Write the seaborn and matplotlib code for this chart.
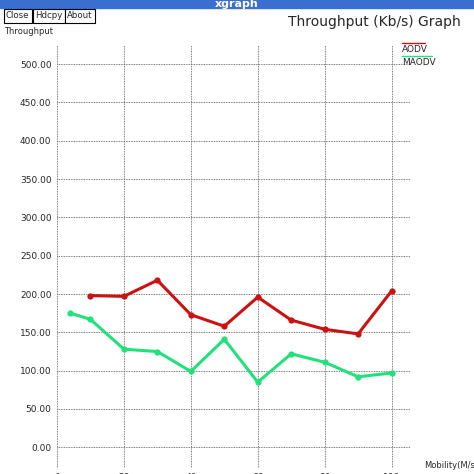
import matplotlib
matplotlib.use('Agg')
import matplotlib.pyplot as plt
import seaborn as sns
import pandas as pd
from matplotlib.patches import Rectangle

# ── data ─────────────────────────────────────────────────────
aodv_x = [10, 20, 30, 40, 50, 60, 70, 80, 90, 100]
aodv_y = [198, 197, 218, 173, 158, 196, 166, 154, 148, 204]
maodv_x = [4, 10, 20, 30, 40, 50, 60, 70, 80, 90, 100]
maodv_y = [175, 167, 128, 125, 99, 141, 85, 122, 111, 92, 97]
y_ticks = [0, 50, 100, 150, 200, 250, 300, 350, 400, 450, 500]
x_ticks = [0, 20, 40, 60, 80, 100]

df = pd.concat([
    pd.DataFrame({'x': aodv_x, 'y': aodv_y, 'proto': 'AODV'}),
    pd.DataFrame({'x': maodv_x, 'y': maodv_y, 'proto': 'MAODV'}),
])
palette = {'AODV': '#cc1111', 'MAODV': '#22e07a'}

sns.set_style('white')
fig = plt.figure(figsize=(4.74, 4.74), dpi=100)
fig.patch.set_facecolor('white')

# window chrome: title bar + buttons
fig.patches.append(Rectangle((0, 1 - 8/474), 1, 8/474, transform=fig.transFigure,
                             color='#3a6fd0', zorder=0))
fig.text(0.5, 1 - 4/474, 'xgraph', ha='center', va='center', color='white',
         fontsize=8, fontweight='bold')
for xp, lab in [(6, 'Close'), (35, 'Hdcpy'), (67, 'About')]:
    fig.text(xp/474, 1 - 16/474, lab, fontsize=6.2, va='center', ha='left',
             bbox=dict(boxstyle='square,pad=0.25', fc='white', ec='black', lw=0.8))
fig.text(288/474, 1 - 22/474, 'Throughput (Kb/s) Graph', fontsize=10, va='center')
fig.text(4/474, 1 - 32/474, 'Throughput', fontsize=6, va='center')
fig.text(424/474, 1 - 465/474, 'Mobility(M/s)', fontsize=6, va='center')

ax = fig.add_axes([57/474, 6/474, (410 - 57)/474, (468 - 45)/474])
sns.lineplot(data=df, x='x', y='y', hue='proto', palette=palette, marker='o',
             markersize=4.5, markeredgewidth=0, linewidth=2.2, ax=ax, legend=False)
ax.set_xlim(0, 105.5)
ax.set_ylim(-27, 525)
ax.set_xticks(x_ticks)
ax.set_yticks(y_ticks)
ax.set_yticklabels([f'{v:.2f}' for v in y_ticks], fontsize=6.5)
ax.set_xticklabels([str(v) for v in x_ticks], fontsize=6.5)
ax.tick_params(axis='y', length=0, pad=4)
ax.tick_params(axis='x', length=0)
ax.grid(True, color='#555555', linestyle=(0, (1, 1)), linewidth=0.6)
ax.set_xlabel(''); ax.set_ylabel('')
for s in ax.spines.values():
    s.set_visible(False)

# legend text with colored overline, like xgraph
ax.text(103, 519, 'AODV', fontsize=6.5, va='center', clip_on=False)
ax.text(103, 502, 'MAODV', fontsize=6.5, va='center', clip_on=False)
ax.plot([103, 110], [527, 527], color=palette['AODV'], lw=1, clip_on=False)
ax.plot([103, 112], [510, 510], color=palette['MAODV'], lw=1, clip_on=False)

fig.savefig('out.png', dpi=100)
